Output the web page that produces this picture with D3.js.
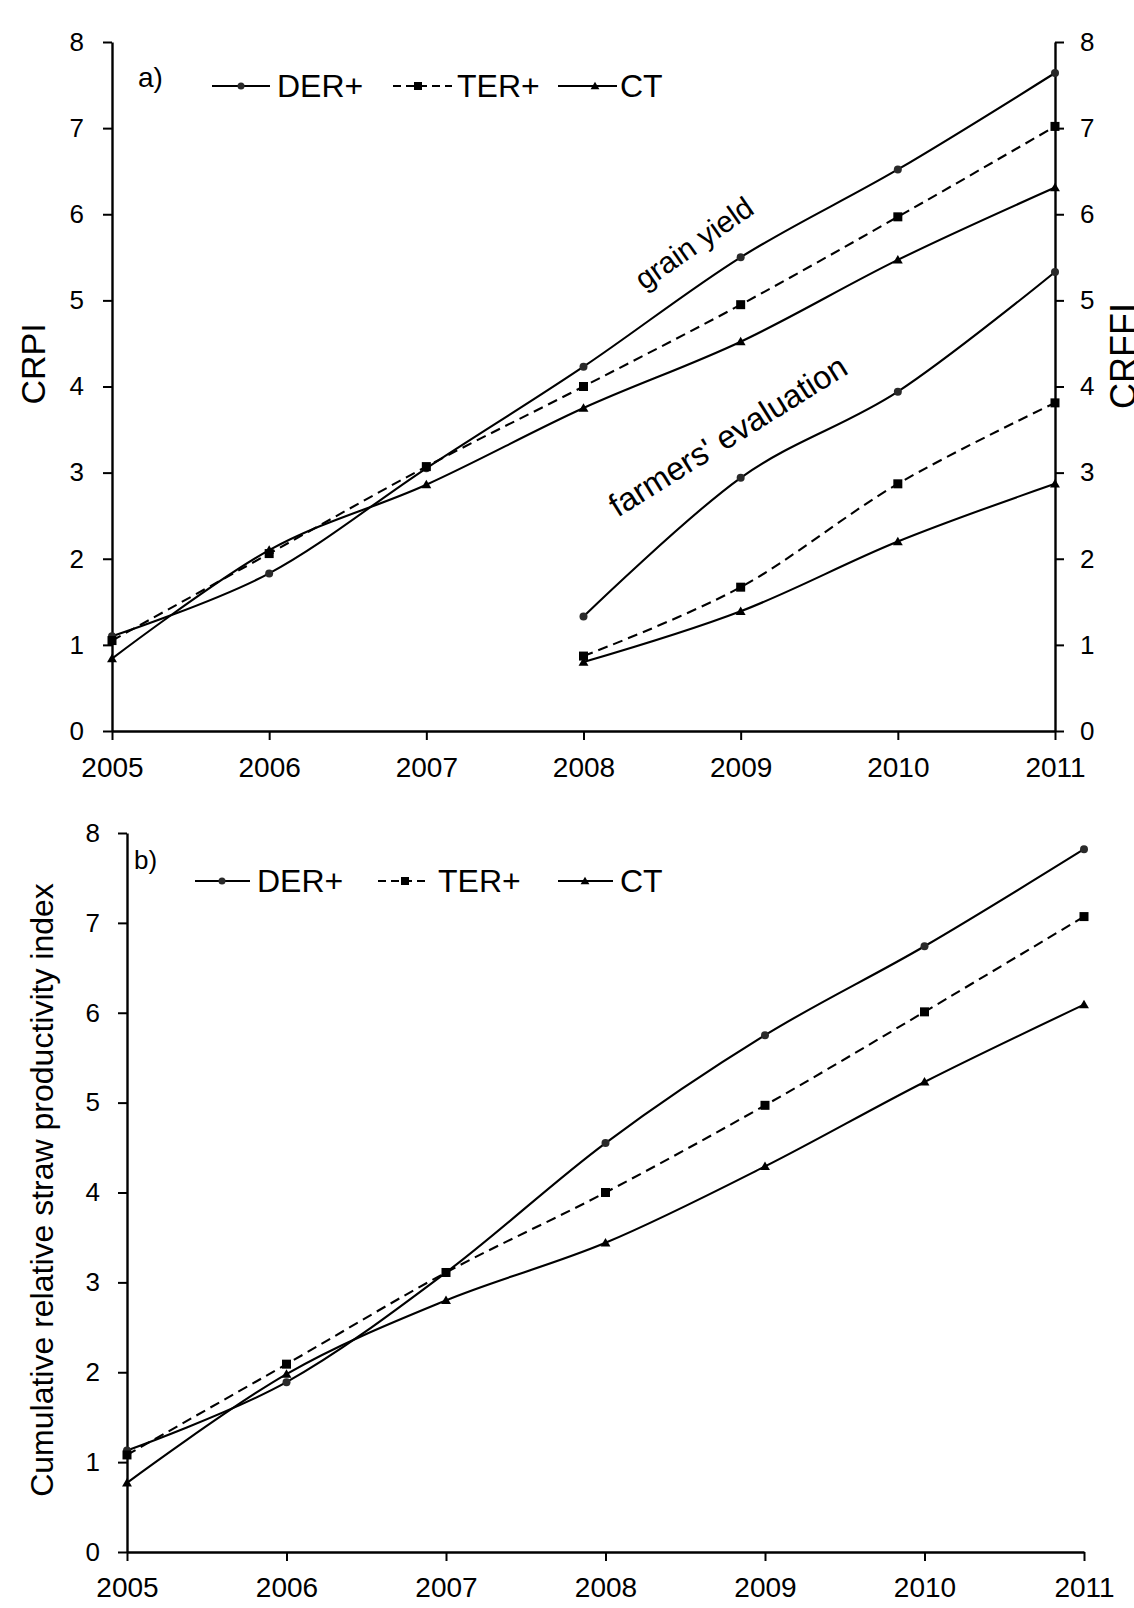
<!DOCTYPE html>
<html>
<head>
<meta charset="utf-8">
<script src="https://cdn.jsdelivr.net/npm/d3@7"></script>
<style>
  html, body { margin: 0; padding: 0; background: #fff; }
  svg { display: block; font-family: "Liberation Sans", Arial, sans-serif; }
</style>
</head>
<body>
<svg id="chart" width="1134" height="1608"></svg>
<script>
(function () {
  "use strict";

  // years on the x axis
  var years = [2005, 2006, 2007, 2008, 2009, 2010, 2011];
  var evalYears = [2008, 2009, 2010, 2011];
  var yTicks = [0, 1, 2, 3, 4, 5, 6, 7, 8];
  var seriesNames = ["DER+", "TER+", "CT"];

  // panel a) grain yield (CRPI)
  var grainDER = [1.10, 1.83, 3.05, 4.23, 5.50, 6.52, 7.64];
  var grainTER = [1.05, 2.06, 3.07, 4.00, 4.95, 5.97, 7.02];
  var grainCT = [0.84, 2.10, 2.86, 3.75, 4.52, 5.47, 6.31];

  // panel a) farmers' evaluation (CRFFI)
  var farmDER = [1.33, 2.94, 3.94, 5.33];
  var farmTER = [0.87, 1.67, 2.87, 3.81];
  var farmCT = [0.80, 1.39, 2.20, 2.87];

  // panel b) straw
  var strawDER = [1.13, 1.89, 3.11, 4.55, 5.75, 6.74, 7.82];
  var strawTER = [1.08, 2.09, 3.11, 4.00, 4.97, 6.01, 7.07];
  var strawCT = [0.77, 1.98, 2.80, 3.44, 4.29, 5.23, 6.09];

  var svg = d3.select("#chart");
  var FONT_TICK_X = 28, FONT_TICK_Y = 26;

  function styleAxis(g, size) {
    g.select(".domain").attr("stroke", "#000").attr("stroke-width", 2.4);
    g.selectAll(".tick line").attr("stroke", "#000").attr("stroke-width", 2);
    g.selectAll(".tick text").attr("fill", "#000").style("font-size", size + "px");
    g.attr("font-family", null).attr("font-size", null);
  }

  function marker(g, type, x, y, s) {
    if (type === "circle") {
      g.append("circle").attr("cx", x).attr("cy", y).attr("r", s * 0.5).attr("fill", "#2a2a2a");
    } else if (type === "square") {
      g.append("rect").attr("x", x - s * 0.5).attr("y", y - s * 0.5)
        .attr("width", s).attr("height", s).attr("fill", "#000");
    } else {
      var h = s * 0.9;
      g.append("path")
        .attr("d", "M" + x + "," + (y - h * 0.6) + "L" + (x + s * 0.55) + "," + (y + h * 0.45) + "L" + (x - s * 0.55) + "," + (y + h * 0.45) + "Z")
        .attr("fill", "#000");
    }
  }

  var styles = [
    { type: "circle", dash: null, size: 8 },
    { type: "square", dash: "10,6", size: 9 },
    { type: "triangle", dash: null, size: 9 }
  ];

  function drawSeries(g, x, y, xs, vals, st) {
    var line = d3.line()
      .x(function (d, i) { return x(xs[i]); })
      .y(function (d) { return y(d); })
      .curve(d3.curveCardinal.tension(0));
    g.append("path")
      .datum(vals)
      .attr("d", line)
      .attr("fill", "none")
      .attr("stroke", "#000")
      .attr("stroke-width", 2.1)
      .attr("stroke-dasharray", st.dash);
    vals.forEach(function (v, i) { marker(g, st.type, x(xs[i]), y(v), st.size); });
  }

  function drawLegend(g, items) {
    items.forEach(function (it, i) {
      var st = styles[i];
      g.append("line")
        .attr("x1", it.x1).attr("x2", it.x2).attr("y1", it.y).attr("y2", it.y)
        .attr("stroke", "#000").attr("stroke-width", 2)
        .attr("stroke-dasharray", st.dash ? "8,5" : null);
      marker(g, st.type, it.m, it.y, st.size - 1);
      g.append("text")
        .attr("x", it.tx).attr("y", it.y + 11)
        .style("font-size", "32px")
        .text(seriesNames[i]);
    });
  }

  // ---------- panel a ----------
  var xa = d3.scaleLinear().domain([2005, 2011]).range([112, 1055]);
  var ya = d3.scaleLinear().domain([0, 8]).range([731, 42]);
  var ga = svg.append("g");

  ga.append("g").attr("transform", "translate(0,731)")
    .call(d3.axisBottom(xa).tickValues(years).tickFormat(d3.format("d")).tickSize(9).tickPadding(17).tickSizeOuter(0))
    .call(styleAxis, FONT_TICK_X);
  ga.append("g").attr("transform", "translate(112,0)")
    .call(d3.axisLeft(ya).tickValues(yTicks).tickSize(9).tickPadding(19).tickSizeOuter(0))
    .call(styleAxis, FONT_TICK_Y);
  ga.append("g").attr("transform", "translate(1055,0)")
    .call(d3.axisRight(ya).tickValues(yTicks).tickSize(9).tickPadding(16).tickSizeOuter(0))
    .call(styleAxis, FONT_TICK_Y);

  [grainDER, grainTER, grainCT].forEach(function (vals, i) { drawSeries(ga, xa, ya, years, vals, styles[i]); });
  [farmDER, farmTER, farmCT].forEach(function (vals, i) { drawSeries(ga, xa, ya, evalYears, vals, styles[i]); });

  ga.append("text").attr("x", 138).attr("y", 87).style("font-size", "28px").text("a)");
  drawLegend(ga, [
    { x1: 212, x2: 270, m: 241, tx: 277, y: 86 },
    { x1: 393, x2: 452, m: 418, tx: 457, y: 86 },
    { x1: 558, x2: 617, m: 595, tx: 620, y: 86 }
  ]);

  ga.append("text")
    .attr("transform", "translate(694,243) rotate(-35)")
    .attr("text-anchor", "middle").attr("dominant-baseline", "central")
    .style("font-size", "30px").text("grain yield");
  ga.append("text")
    .attr("transform", "translate(728,436) rotate(-32)")
    .attr("text-anchor", "middle").attr("dominant-baseline", "central")
    .style("font-size", "32.5px").text("farmers' evaluation");

  ga.append("text")
    .attr("transform", "translate(33,364) rotate(-90)")
    .attr("text-anchor", "middle").attr("dominant-baseline", "central")
    .style("font-size", "34px").text("CRPI");
  ga.append("text")
    .attr("transform", "translate(1123,356) rotate(-90)")
    .attr("text-anchor", "middle").attr("dominant-baseline", "central")
    .style("font-size", "36px").text("CRFFI");

  // ---------- panel b ----------
  var xb = d3.scaleLinear().domain([2005, 2011]).range([127, 1084]);
  var yb = d3.scaleLinear().domain([0, 8]).range([1552, 833]);
  var gb = svg.append("g");

  gb.append("g").attr("transform", "translate(0,1552)")
    .call(d3.axisBottom(xb).tickValues(years).tickFormat(d3.format("d")).tickSize(9).tickPadding(16).tickSizeOuter(0))
    .call(styleAxis, FONT_TICK_X);
  gb.append("g").attr("transform", "translate(127,0)")
    .call(d3.axisLeft(yb).tickValues(yTicks).tickSize(9).tickPadding(18).tickSizeOuter(0))
    .call(styleAxis, FONT_TICK_Y);

  [strawDER, strawTER, strawCT].forEach(function (vals, i) { drawSeries(gb, xb, yb, years, vals, styles[i]); });

  gb.append("text").attr("x", 134).attr("y", 869).style("font-size", "26px").text("b)");
  drawLegend(gb, [
    { x1: 195, x2: 250, m: 222, tx: 257, y: 881 },
    { x1: 378, x2: 427, m: 405, tx: 438, y: 881 },
    { x1: 558, x2: 613, m: 585, tx: 620, y: 881 }
  ]);

  gb.append("text")
    .attr("transform", "translate(42,1190) rotate(-90)")
    .attr("text-anchor", "middle").attr("dominant-baseline", "central")
    .style("font-size", "32px").text("Cumulative relative straw productivity index");
})();
</script>
</body>
</html>
